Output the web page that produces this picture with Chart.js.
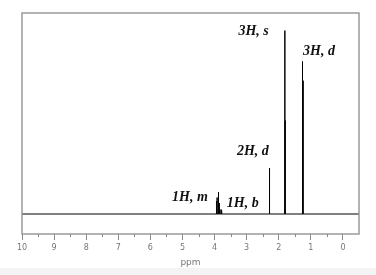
<!DOCTYPE html>
<html>
<head>
<meta charset="utf-8">
<script src="https://cdn.jsdelivr.net/npm/chart.js@4.4.1/dist/chart.umd.min.js"></script>
<style>
  body { margin: 0; background: #f4f4f4; }
  #wrap { width: 376px; height: 268px; background: #fff; }
</style>
</head>
<body>
<div id="wrap"><canvas id="myChart" width="376" height="268"></canvas></div>
<script>
// axis range (ppm, reversed) and intensity range
const ppmRange = [-0.5, 10];
const intensityRange = [-10.9, 109.6];

// peak lines: chemical shift (ppm) and relative height
const peakPpm = [3.94, 3.92, 3.89, 3.87, 3.85, 3.80, 3.78, 2.30, 2.28, 1.81, 1.80, 1.26, 1.24];
const peakHeight = [7, 9, 11.9, 8, 6, 2.5, 2, 25, 20.4, 100, 51, 83.2, 72.7];

// multiplicity labels
const labelText = ["1H, m", "1H, b", "2H, d", "3H, s", "3H, d"];
const labelPpm = [4.21, 3.62, 2.31, 2.31, 1.245];
const labelLevel = [9.3, 5.8, 34.4, 99.3, 88.7];

// build the trace: baseline with a vertical stick at each peak
const spectrum = [{ x: ppmRange[1], y: 0 }];
peakPpm.forEach(function (p, i) {
  spectrum.push({ x: p, y: 0 }, { x: p, y: peakHeight[i] }, { x: p, y: 0 });
});
spectrum.push({ x: ppmRange[0], y: 0 });

const labelAlign = ["right", "left", "right", "right", "left"];

const nmrDecor = {
  id: "nmrDecor",
  afterDraw: function (chart) {
    const ctx = chart.ctx;
    const a = chart.chartArea;
    const xs = chart.scales.x;
    const ys = chart.scales.y;
    ctx.save();
    // frame
    ctx.strokeStyle = "#9a9a9a";
    ctx.lineWidth = 1.5;
    ctx.strokeRect(a.left, a.top, a.right - a.left, a.bottom - a.top);
    // minor ticks
    ctx.lineWidth = 1;
    ctx.strokeStyle = "#888";
    for (let v = 0.5; v < ppmRange[1]; v += 1) {
      const px = Math.round(xs.getPixelForValue(v)) + 0.5;
      ctx.beginPath();
      ctx.moveTo(px, a.bottom);
      ctx.lineTo(px, a.bottom + 3);
      ctx.stroke();
    }
    // labels
    ctx.fillStyle = "#111";
    ctx.font = "italic bold 14px 'Liberation Serif', serif";
    ctx.textBaseline = "middle";
    labelText.forEach(function (t, i) {
      ctx.textAlign = labelAlign[i];
      ctx.fillText(t, xs.getPixelForValue(labelPpm[i]), ys.getPixelForValue(labelLevel[i]));
    });
    ctx.restore();
  },
};

const config = {
  type: "line",
  data: {
    datasets: [
      {
        data: spectrum,
        borderColor: "#000",
        borderWidth: 1,
        pointRadius: 0,
        tension: 0,
        fill: false,
      },
    ],
  },
  options: {
    responsive: false,
    animation: false,
    layout: { padding: { left: 22, right: 17, top: 13 } },
    plugins: { legend: { display: false }, tooltip: { enabled: false } },
    scales: {
      x: {
        type: "linear",
        reverse: true,
        min: ppmRange[0],
        max: ppmRange[1],
        afterFit: function (scale) {
          scale.height = 34;
        },
        border: { display: false },
        grid: {
          drawOnChartArea: false,
          tickLength: 6,
          tickColor: "#888",
        },
        ticks: {
          stepSize: 1,
          includeBounds: false,
          maxRotation: 0,
          padding: 3,
          color: "#777",
          font: { size: 8, family: "'DejaVu Sans', sans-serif" },
          callback: function (value) {
            return Number.isInteger(value) ? value : "";
          },
        },
        title: {
          display: true,
          text: "ppm",
          color: "#777",
          padding: 0,
          font: { size: 9, family: "'DejaVu Sans', sans-serif" },
        },
      },
      y: {
        display: false,
        min: intensityRange[0],
        max: intensityRange[1],
      },
    },
  },
  plugins: [nmrDecor],
};
let myChart = new Chart(document.getElementById("myChart"), config);
</script>
</body>
</html>
